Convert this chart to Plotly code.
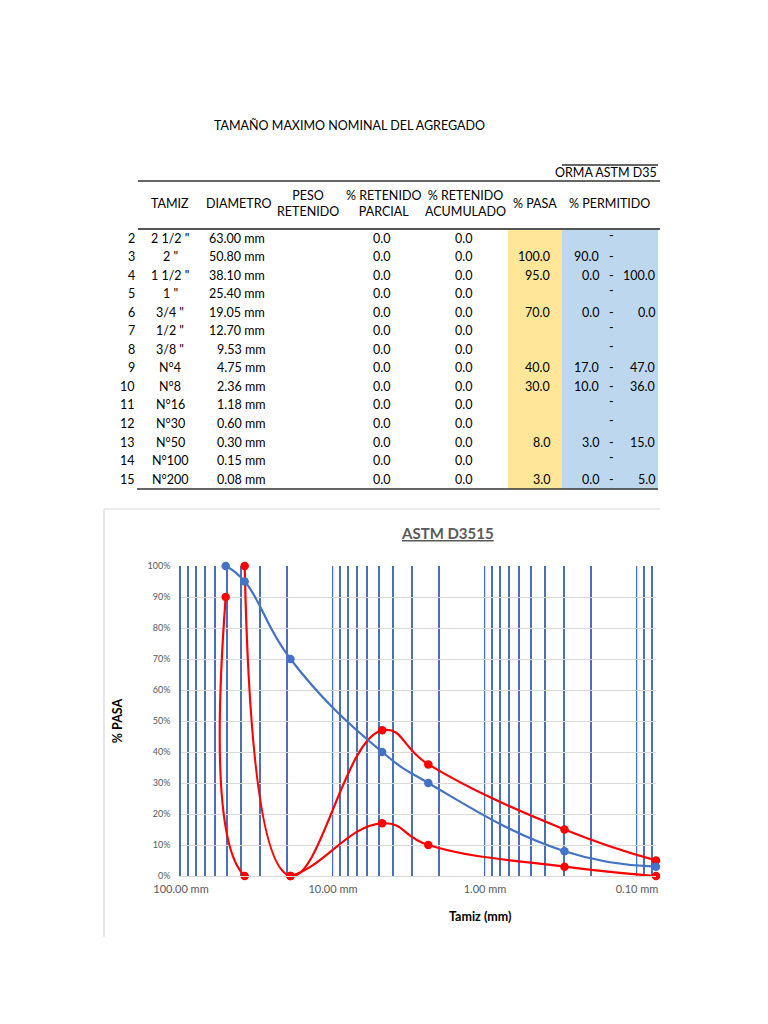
import math
import plotly.graph_objects as go

# ---------------- data ----------------
row_numbers = [2, 3, 4, 5, 6, 7, 8, 9, 10, 11, 12, 13, 14, 15]
tamiz = ['2 1/2 "', '2 "', '1 1/2 "', '1 "', '3/4 "', '1/2 "', '3/8 "',
         "N°4", "N°8", "N°16", "N°30", "N°50", "N°100", "N°200"]
diametro_mm = [63.0, 50.8, 38.1, 25.4, 19.05, 12.7, 9.53, 4.75, 2.36, 1.18, 0.60, 0.30, 0.15, 0.075]
diametro_txt = ["63.00 mm", "50.80 mm", "38.10 mm", "25.40 mm", "19.05 mm", "12.70 mm", "9.53 mm",
                "4.75 mm", "2.36 mm", "1.18 mm", "0.60 mm", "0.30 mm", "0.15 mm", "0.08 mm"]
ret_parcial = [0.0] * 14
ret_acumulado = [0.0] * 14
pct_pasa = [None, 100.0, 95.0, None, 70.0, None, None, 40.0, 30.0, None, None, 8.0, None, 3.0]
perm_low = [None, 90.0, 0.0, None, 0.0, None, None, 17.0, 10.0, None, None, 3.0, None, 0.0]
perm_high = [None, None, 100.0, None, 0.0, None, None, 47.0, 36.0, None, None, 15.0, None, 5.0]

x_tick_vals = [100, 10, 1, 0.1]
x_tick_text = ["100.00 mm", "10.00 mm", "1.00 mm", "0.10 mm"]

W, H = 768, 1024
FONT = "Lato, Carlito, Calibri, sans-serif"


def X(px):
    return px / W


def Y(py):
    return 1 - py / H


def pick(xs, ys):
    pts = [(a, b) for a, b in zip(xs, ys) if b is not None]
    return [p[0] for p in pts], [p[1] for p in pts]


fig = go.Figure()

BLUE = "#4472C4"
GRIDBLUE = "#4A70B5"
RED = "#FF0000"

bx, by = pick(diametro_mm, pct_pasa)
lx, ly = pick(diametro_mm, perm_low)
hx, hy = pick(diametro_mm, perm_high)

for xs, ys, col in [(lx, ly, RED), (hx, hy, RED), (bx, by, BLUE)]:
    fig.add_trace(go.Scatter(
        x=xs, y=ys, mode="lines+markers",
        line=dict(color=col, width=2.2, shape="spline", smoothing=1.3),
        marker=dict(color=col, size=8.5),
        cliponaxis=False, showlegend=False, hoverinfo="skip"))

fig.update_layout(
    width=W, height=H, autosize=False,
    margin=dict(l=0, r=0, t=0, b=0, pad=0, autoexpand=False),
    paper_bgcolor="white", plot_bgcolor="white",
    font=dict(family=FONT, color="#000000"),
    xaxis=dict(
        type="log", domain=[X(181), X(656)],
        range=[2, math.log10(0.075)],
        tickvals=x_tick_vals, ticktext=x_tick_text,
        tickfont=dict(size=11, color="#595959", family=FONT),
        showgrid=True, gridcolor="#D9D9D9", gridwidth=1,
        minor=dict(dtick="D1", showgrid=True, gridcolor=GRIDBLUE, gridwidth=1.5, ticks=""),
        showline=True, linecolor="#D9D9D9", linewidth=1,
        zeroline=False, ticks="", ticklabelstandoff=3, automargin=False,
    ),
    yaxis=dict(
        domain=[Y(876), Y(566)], range=[0, 100], dtick=10, ticksuffix="%",
        tickfont=dict(size=9, color="#595959", family=FONT),
        showgrid=True, gridcolor="#D9D9D9", gridwidth=1,
        showline=True, linecolor=GRIDBLUE, linewidth=1.5,
        zeroline=False, ticks="", ticklabelstandoff=7, automargin=False,
        title=dict(text="<b>% PASA</b>", font=dict(size=12.5, color="#000000", family=FONT),
                   standoff=22),
    ),
)

ann = []


def txt(s, px, py, size=12.5, anchor="center", bold=False, color="#000000"):
    ann.append(dict(text=("<b>%s</b>" % s) if bold else s, x=X(px), y=Y(py),
                    xref="paper", yref="paper", xanchor=anchor, yanchor="middle",
                    showarrow=False, font=dict(size=size, color=color, family=FONT)))


# title
txt("TAMAÑO MAXIMO NOMINAL DEL AGREGADO", 349, 125, size=12.5)
txt("ORMA ASTM D35", 659, 172, size=12.5, anchor="right")

# headers
txt("TAMIZ", 170, 203)
txt("DIAMETRO", 238, 203)
txt("PESO<br>RETENIDO", 308, 203)
txt("% RETENIDO<br>PARCIAL", 383, 203)
txt("% RETENIDO<br>ACUMULADO", 465, 203)
txt("% PASA", 535, 203)
txt("% PERMITIDO", 609, 203)

# rows
for i in range(len(row_numbers)):
    yy = 238 + i * 18.55
    txt(str(row_numbers[i]), 137, yy, anchor="right")
    txt(tamiz[i], 170, yy)
    txt(diametro_txt[i], 267, yy, anchor="right")
    txt("%.1f" % ret_parcial[i], 381, yy)
    txt("%.1f" % ret_acumulado[i], 463, yy)
    if pct_pasa[i] is not None:
        txt("%.1f" % pct_pasa[i], 552, yy, anchor="right")
    if perm_low[i] is not None:
        txt("%.1f" % perm_low[i], 601, yy, anchor="right")
    txt("-", 611, yy - (3 if perm_low[i] is None else 0))
    if perm_high[i] is not None:
        txt("%.1f" % perm_high[i], 657, yy, anchor="right")

# chart title and x-axis title
ann.append(dict(text="<b><u>ASTM D3515</u></b>", x=X(447), y=Y(533), xref="paper", yref="paper",
                xanchor="center", yanchor="middle", showarrow=False,
                font=dict(size=15, color="#595959", family=FONT)))
txt("Tamiz (mm)", 480, 916, size=12.5, bold=True)

fig.update_layout(annotations=ann)

shapes = []


def rect(x0, y0, x1, y1, fill):
    shapes.append(dict(type="rect", xref="paper", yref="paper", x0=X(x0), x1=X(x1),
                       y0=Y(y1), y1=Y(y0), fillcolor=fill, line=dict(width=0), layer="below"))


def hline(x0, x1, y, color="#000000", w=1.5):
    shapes.append(dict(type="line", xref="paper", yref="paper", x0=X(x0), x1=X(x1),
                       y0=Y(y), y1=Y(y), line=dict(color=color, width=w)))


def vline(x, y0, y1, color, w=1):
    shapes.append(dict(type="line", xref="paper", yref="paper", x0=X(x), x1=X(x),
                       y0=Y(y0), y1=Y(y1), line=dict(color=color, width=w)))


rect(508, 230, 562, 489, "#FFE699")
rect(562, 230, 658, 489, "#BDD7EE")
hline(562, 658, 165, "#333333", 1.5)
hline(138, 660, 181, "#333333", 1.5)
hline(138, 660, 229, "#555555", 2)
hline(137, 658, 489, "#333333", 1.5)
# chart area border
hline(104, 660, 509, "#D9D9D9", 1.2)
vline(104, 509, 937, "#D9D9D9", 1.2)

fig.update_layout(shapes=shapes)

fig.write_html("out.html")
